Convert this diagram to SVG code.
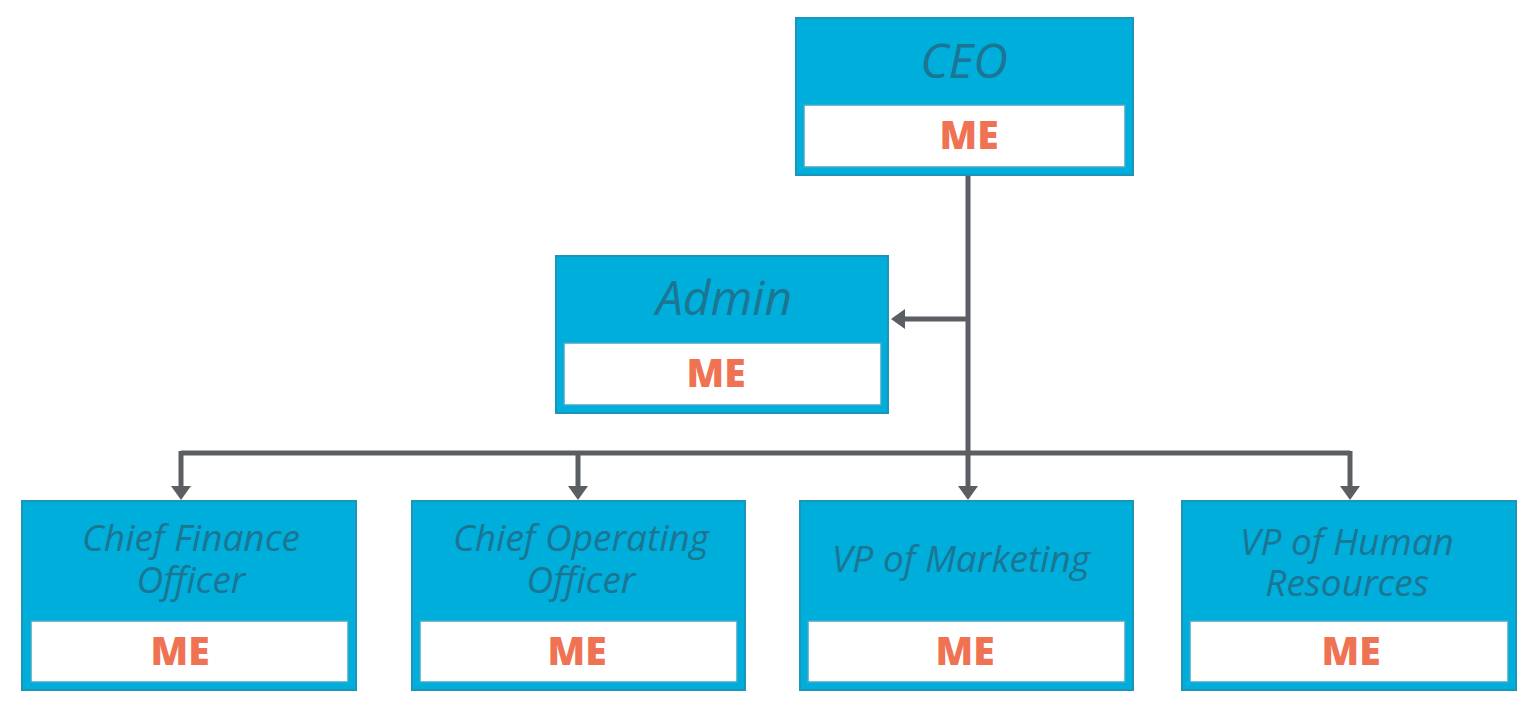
<svg xmlns="http://www.w3.org/2000/svg" width="1536" height="710" viewBox="0 0 1536 710">
<style>
.box{fill:#00AEDB;stroke:#1B95B8;stroke-width:2}
.inner{fill:#FFFFFF;stroke:#3FA9C8;stroke-width:1.5}
.title{font-family:"Open Sans","Liberation Sans",sans-serif;font-style:italic;fill:#1C7592;text-anchor:middle}
.me{font-family:"Open Sans","Liberation Sans",sans-serif;font-weight:800;fill:#EF7352;text-anchor:middle;font-size:39px}
.conn{fill:none;stroke:#5B5F63;stroke-width:5}
</style>
<defs>
<marker id="arr" viewBox="0 0 14 20" refX="4" refY="10" markerWidth="14" markerHeight="20" orient="auto" markerUnits="userSpaceOnUse">
<path d="M0,0 L14,10 L0,20 z" fill="#5B5F63"/>
</marker>
</defs>
<g id="connectors">
<path class="conn" d="M968,175 V453"/>
<path class="conn" d="M968,319 H901" marker-end="url(#arr)"/>
<path class="conn" d="M181,453 H1350"/>
<path class="conn" d="M181,451 V490" marker-end="url(#arr)"/>
<path class="conn" d="M578,451 V490" marker-end="url(#arr)"/>
<path class="conn" d="M968,451 V490" marker-end="url(#arr)"/>
<path class="conn" d="M1350,451 V490" marker-end="url(#arr)"/>
</g>
<g id="ceo">
<rect class="box" x="796" y="18" width="337" height="157"/>
<rect class="inner" x="804" y="105" width="321" height="62"/>
<text class="title" x="964" y="78" font-size="48">CEO</text>
<text class="me" x="969" y="149">ME</text>
</g>
<g id="admin">
<rect class="box" x="556" y="256" width="332" height="157"/>
<rect class="inner" x="564" y="343" width="317" height="62"/>
<text class="title" x="724" y="315" font-size="48">Admin</text>
<text class="me" x="716" y="387">ME</text>
</g>
<g id="cfo">
<rect class="box" x="22" y="501" width="334" height="189"/>
<rect class="inner" x="31" y="621" width="317" height="61"/>
<text class="title" x="191" y="551" font-size="37">Chief Finance</text>
<text class="title" x="191" y="593" font-size="37">Officer</text>
<text class="me" x="180" y="665">ME</text>
</g>
<g id="coo">
<rect class="box" x="412" y="501" width="333" height="189"/>
<rect class="inner" x="420" y="621" width="317" height="61"/>
<text class="title" x="581" y="551" font-size="37">Chief Operating</text>
<text class="title" x="581" y="593" font-size="37">Officer</text>
<text class="me" x="577" y="665">ME</text>
</g>
<g id="vpm">
<rect class="box" x="800" y="501" width="333" height="189"/>
<rect class="inner" x="808" y="621" width="317" height="61"/>
<text class="title" x="961" y="572" font-size="37">VP of Marketing</text>
<text class="me" x="965" y="665">ME</text>
</g>
<g id="vphr">
<rect class="box" x="1182" y="501" width="334" height="189"/>
<rect class="inner" x="1190" y="621" width="318" height="61"/>
<text class="title" x="1347" y="555" font-size="37">VP of Human</text>
<text class="title" x="1347" y="596" font-size="37">Resources</text>
<text class="me" x="1351" y="665">ME</text>
</g>
</svg>
